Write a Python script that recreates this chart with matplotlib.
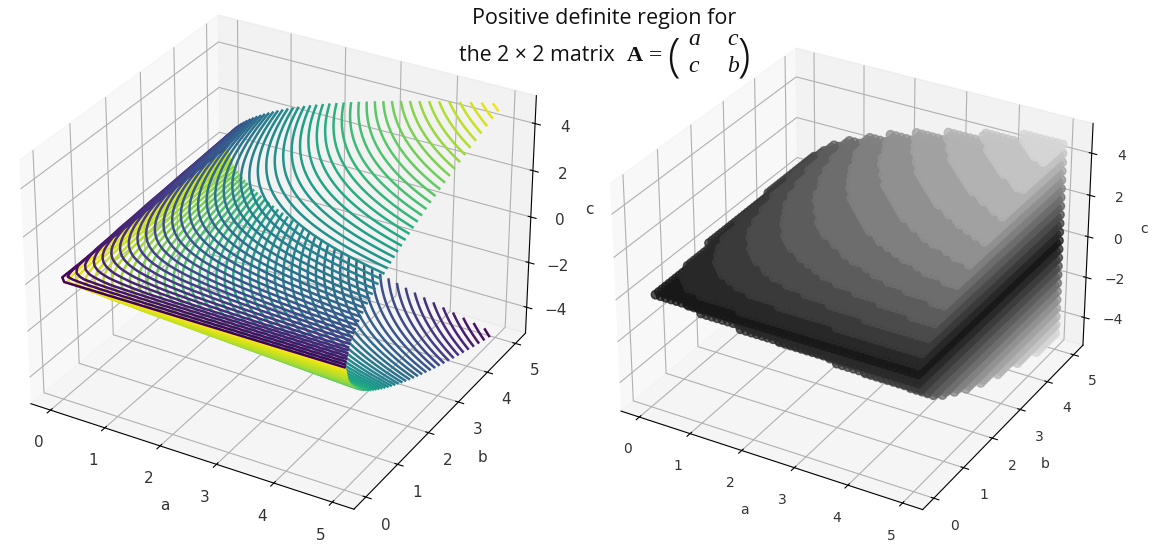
import numpy as np
import matplotlib
matplotlib.use('Agg')
import matplotlib.pyplot as plt

# axis setup
a_limits = [-0.365, 5.365]
b_limits = [-0.365, 5.365]
c_limits_left = [-5.17, 5.17]
c_limits_right = [-5.4, 5.4]
a_ticks = [0, 1, 2, 3, 4, 5]
b_ticks = [0, 1, 2, 3, 4, 5]
c_ticks = [-4, -2, 0, 2, 4]

# the surface is the boundary of the region in the title: c^2 = a*b
grid_count = 50
contour_levels = 50
c_level_count = 25

a_grid = np.linspace(0, 5, grid_count)
b_grid = np.linspace(0, 5, grid_count)
A, B = np.meshgrid(a_grid, b_grid)
C = np.sqrt(A * B)

W, H = 1159, 551
fig = plt.figure(figsize=(W / 100, H / 100), dpi=100)


def place_axes(cx, cy, size):
    ax = fig.add_axes([(cx - size / 2) / W, 1 - (cy + size / 2) / H, size / W, size / H],
                      projection='3d')
    # neighbouring axes overlap, so no white square behind the panes
    ax.patch.set_visible(False)
    return ax


def style_axes(ax, c_limits, fontsize, labelpad, c_labelpad):
    ax.set_xlim(a_limits)
    ax.set_ylim(b_limits)
    ax.set_zlim(c_limits)
    ax.set_xticks(a_ticks)
    ax.set_yticks(b_ticks)
    ax.set_zticks(c_ticks)
    ax.set_xlabel('a', fontsize=fontsize, labelpad=labelpad)
    ax.set_ylabel('b', fontsize=fontsize, labelpad=labelpad)
    ax.set_zlabel('c', fontsize=fontsize, labelpad=c_labelpad)
    ax.tick_params(labelsize=fontsize, pad=5)
    for axis in (ax.xaxis, ax.yaxis, ax.zaxis):
        for t in axis.get_ticklabels():
            t.set_color('#333333')
        axis.label.set_color('#333333')


# left: contour lines of both sheets
ax1 = place_axes(275, 258, 575)
ax1.contour3D(A, B, C, contour_levels, cmap='viridis', linewidths=1.8)
ax1.contour3D(A, B, -C, contour_levels, cmap='viridis', linewidths=1.8)
style_axes(ax1, c_limits_left, 11, 5, 5)

# right: grid points inside the region
ax2 = place_axes(849, 275, 537)
c_grid = np.linspace(-5, 5, c_level_count)
pa, pb, pc = np.meshgrid(a_grid, b_grid, c_grid)
inside = pa * pb > pc ** 2
shade = np.abs(pc[inside])
ax2.scatter(pa[inside], pb[inside], pc[inside], c=shade, cmap='gray', vmin=-0.6, vmax=5.6,
            s=38, alpha=0.75)
style_axes(ax2, c_limits_right, 10, 5, 4)


def px_text(x, y, s, size, **kw):
    kw.setdefault('ha', 'left')
    kw.setdefault('va', 'baseline')
    fig.text(x / W, 1 - y / H, s, fontsize=size, color='#111111', **kw)


# title, assembled piece by piece since mathtext has no matrix
title_font = 'Open Sans'
math_font = 'Liberation Serif'
px_text(604, 24, 'Positive definite region for', 15.5, family=title_font, ha='center')
px_text(459, 61, 'the 2 × 2 matrix', 15.3, family=title_font)
px_text(627, 61, 'A', 16, family=math_font, weight='bold')
px_text(649, 61, '=', 17, family=math_font)
px_text(667, 71, '(', 33, family=title_font, weight='light')
px_text(688, 45, 'a', 17, family=math_font, style='italic')
px_text(727, 45, 'c', 17, family=math_font, style='italic')
px_text(688, 72, 'c', 17, family=math_font, style='italic')
px_text(727, 72, 'b', 17, family=math_font, style='italic')
px_text(738, 71, ')', 33, family=title_font, weight='light')

plt.savefig('out.png', dpi=100)
